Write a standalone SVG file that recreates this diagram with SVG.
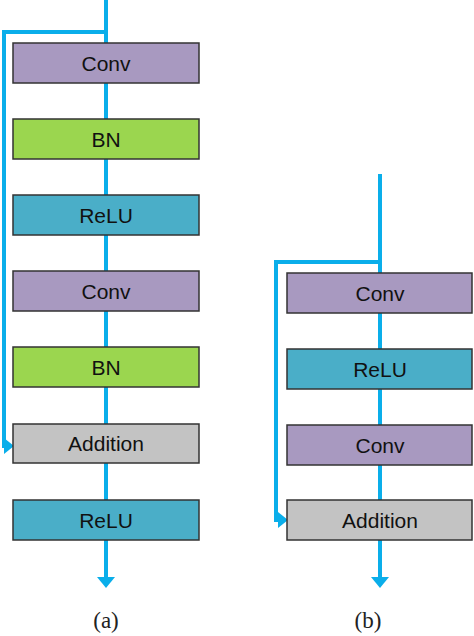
<svg xmlns="http://www.w3.org/2000/svg" width="474" height="636" viewBox="0 0 474 636">
<style>
.box{stroke:#333;stroke-width:1.5}
.conv{fill:#a899c0}
.bn{fill:#9bd64f}
.relu{fill:#4aaec8}
.add{fill:#c3c3c3}
.lbl{font-family:"Liberation Sans",Arial,sans-serif;font-size:21px;fill:#111;text-anchor:middle;dominant-baseline:central}
.cap{font-family:"Liberation Serif","Times New Roman",serif;font-size:23px;fill:#222;text-anchor:middle}
.ln{fill:none;stroke:#0aaeea;stroke-width:4}
.ah{fill:#0aaeea}
</style>
<rect width="474" height="636" fill="#fff"/>
<g id="connectors">
<path class="ln" d="M106,0 V579"/>
<polygon class="ah" points="97,577 115,577 106,588"/>
<path class="ln" d="M106,32 H4 V446 H6"/>
<polygon class="ah" points="4,438 14,446 4,454"/>
<path class="ln" d="M380,174 V579"/>
<polygon class="ah" points="371,577 389,577 380,588"/>
<path class="ln" d="M380,262 H276 V520 H279"/>
<polygon class="ah" points="278,512 288,520 278,528"/>
</g>
<g id="a-conv1"><rect class="box conv" x="13" y="43" width="186" height="40"/><text class="lbl" x="106" y="63">Conv</text></g>
<g id="a-bn1"><rect class="box bn" x="13" y="119" width="186" height="40"/><text class="lbl" x="106" y="139">BN</text></g>
<g id="a-relu1"><rect class="box relu" x="13" y="195" width="186" height="40"/><text class="lbl" x="106" y="215">ReLU</text></g>
<g id="a-conv2"><rect class="box conv" x="13" y="271" width="186" height="40"/><text class="lbl" x="106" y="291">Conv</text></g>
<g id="a-bn2"><rect class="box bn" x="13" y="347" width="186" height="40"/><text class="lbl" x="106" y="367">BN</text></g>
<g id="a-add"><rect class="box add" x="13" y="424" width="186" height="39"/><text class="lbl" x="106" y="443">Addition</text></g>
<g id="a-relu2"><rect class="box relu" x="13" y="500" width="186" height="40"/><text class="lbl" x="106" y="520">ReLU</text></g>
<g id="b-conv1"><rect class="box conv" x="287" y="273" width="185" height="40"/><text class="lbl" x="380" y="293">Conv</text></g>
<g id="b-relu"><rect class="box relu" x="287" y="349" width="185" height="40"/><text class="lbl" x="380" y="369">ReLU</text></g>
<g id="b-conv2"><rect class="box conv" x="287" y="425" width="185" height="40"/><text class="lbl" x="380" y="445">Conv</text></g>
<g id="b-add"><rect class="box add" x="287" y="500" width="185" height="40"/><text class="lbl" x="380" y="520">Addition</text></g>
<text class="cap" x="106" y="628">(a)</text>
<text class="cap" x="368" y="628">(b)</text>
</svg>
